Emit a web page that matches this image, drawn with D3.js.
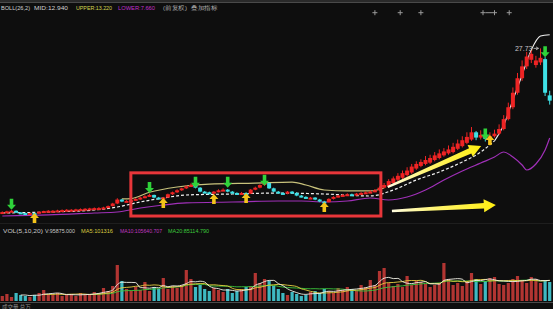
<!DOCTYPE html>
<html><head><meta charset="utf-8">
<script src="https://cdn.jsdelivr.net/npm/d3@7"></script>
<style>html,body{margin:0;padding:0;background:#0e0e0e;overflow:hidden}</style>
</head><body><svg id="c" width="553" height="309"></svg>
<script>
// ---------- DATA ----------
const opens = [2.85,2.9,3.0,3.1,2.85,2.75,2.7,2.75,2.7,2.95,
3.05,3.1,3.1,3.15,3.2,3.25,3.25,3.3,3.35,3.4,
3.45,3.5,3.5,3.6,3.8,4.2,4.8,4.5,4.6,4.7,
4.9,5.1,5.3,5.5,5.1,5.0,5.1,5.6,5.9,6.2,
6.5,6.8,7.0,6.6,6.0,5.9,5.7,6.0,6.2,6.3,
6.0,5.8,5.7,5.8,5.7,6.3,6.6,7.0,7.3,6.5,
6.0,5.8,5.7,6.0,5.8,5.4,5.2,5.0,5.1,4.8,
4.5,4.4,4.9,5.2,5.4,5.5,5.6,5.5,5.7,5.8,
5.9,6.0,6.2,6.6,6.8,7.3,7.8,8.1,8.5,8.9,
9.5,9.9,10.2,10.4,10.8,11.1,11.5,11.8,12.0,12.5,
12.9,13.4,13.9,15.0,14.2,14.6,14.0,14.4,14.8,15.5,
17.0,18.8,21.0,23.2,25.0,26.0,25.2,25.6,26.1,20.6];
const closes = [2.9,3.0,3.1,2.85,2.75,2.7,2.75,2.7,2.95,3.05,
3.1,3.1,3.15,3.2,3.25,3.25,3.3,3.35,3.4,3.45,
3.5,3.5,3.6,3.8,4.2,4.8,4.5,4.6,4.7,4.9,
5.1,5.3,5.5,5.1,5.0,5.1,5.6,5.9,6.2,6.5,
6.8,7.0,6.6,6.0,5.9,5.7,6.0,6.2,6.3,6.0,
5.8,5.7,5.8,5.7,6.3,6.6,7.0,7.3,6.5,6.0,
5.8,5.7,6.0,5.8,5.4,5.2,5.0,5.1,4.8,4.5,
4.4,4.9,5.2,5.4,5.5,5.6,5.5,5.7,5.8,5.9,
6.0,6.2,6.6,7.0,7.6,8.0,8.4,8.8,9.2,9.8,
10.2,10.5,10.8,11.1,11.5,11.8,12.1,12.4,12.8,13.3,
13.8,14.3,15.0,14.2,14.6,14.0,14.4,14.8,15.5,17.0,
18.8,21.0,23.2,25.0,26.5,26.9,25.9,26.3,21.0,19.8];
const highs = [3.0,3.1,3.2,3.15,2.9,2.8,2.8,2.8,3.0,3.1,
3.2,3.2,3.25,3.3,3.35,3.35,3.4,3.45,3.5,3.55,
3.6,3.65,3.7,3.9,4.3,5.0,4.9,4.7,4.85,5.0,
5.2,5.45,5.7,5.55,5.2,5.2,5.7,6.0,6.35,6.6,
6.95,7.25,7.1,6.7,6.1,6.0,6.1,6.35,6.5,6.4,
6.1,5.9,5.95,5.9,6.4,6.75,7.1,7.5,7.35,6.6,
6.1,5.9,6.1,6.1,5.9,5.5,5.3,5.2,5.15,4.9,
4.6,5.0,5.3,5.5,5.65,5.75,5.7,5.8,5.95,6.05,
6.2,6.4,6.8,7.3,7.9,8.3,8.8,9.2,9.7,10.2,
10.6,10.9,11.4,11.6,12.0,12.4,12.6,13.0,13.4,13.9,
14.4,15.0,15.8,15.2,15.3,14.8,15.0,15.4,16.2,17.6,
19.5,21.8,24.0,25.9,27.2,27.5,26.6,27.73,26.4,21.3];
const lows = [2.8,2.85,2.95,2.8,2.7,2.65,2.65,2.6,2.7,2.9,
3.0,3.0,3.05,3.1,3.15,3.15,3.2,3.25,3.3,3.35,
3.4,3.4,3.45,3.55,3.75,4.1,4.4,4.4,4.5,4.6,
4.8,5.0,5.2,5.0,4.9,4.85,5.05,5.5,5.8,6.1,
6.4,6.7,6.5,5.9,5.8,5.6,5.6,5.9,6.1,5.9,
5.7,5.6,5.6,5.55,5.65,6.2,6.5,6.9,6.4,5.9,
5.7,5.6,5.6,5.7,5.3,5.1,4.9,4.9,4.7,4.4,
4.3,4.35,4.8,5.1,5.3,5.4,5.4,5.4,5.6,5.7,
5.8,5.9,6.1,6.5,6.6,7.1,7.6,7.9,8.3,8.7,
9.3,9.7,10.0,10.2,10.6,10.9,11.3,11.6,11.8,12.3,
12.7,13.2,13.7,13.8,13.9,13.6,13.8,14.2,14.6,15.3,
16.8,18.5,20.7,22.8,24.6,25.5,24.8,25.2,20.5,19.2];
// volume (thousand shares)
const volumes = [25,35,20,40,30,25,20,30,40,55,
35,30,40,25,30,35,25,40,30,35,
45,40,65,50,75,180,100,60,50,70,
55,95,50,70,60,115,60,75,65,80,
155,110,70,80,60,50,65,55,45,60,
40,50,60,70,75,140,90,110,100,75,
60,40,30,45,35,25,30,45,50,40,
60,50,40,65,55,70,60,50,80,70,
105,80,150,165,90,75,85,70,125,80,
100,95,85,70,80,90,190,110,80,90,
75,100,140,110,85,100,115,120,85,80,
90,110,125,100,90,120,110,90,100,95];
// BOLL lines [candle index, price]
const upperBand = [[26,4.9],[28,4.95],[32,5.9],[38,6.7],[45,7.15],[55,7.3],[63,7.45],[66,7.0],[70,6.25],[75,6.1],[80,6.1],[83,6.55]];
const midBand = [[0,2.76],[10,2.91],[20,3.21],[25,3.67],[30,4.43],[35,5.03],[40,5.49],[50,5.64],[60,5.79],[70,5.64],[80,5.34],[85,6.25],[90,7.76],[95,8.98],[100,10.5],[104,12.0],[107,13.7],[109,16.1],[111,19.9],[113,23.7],[115,27.5],[117,29.6],[119,29.8]];
const lowerBand = [[0,2.30],[10,2.46],[20,2.76],[25,2.91],[30,3.52],[35,3.97],[40,4.28],[50,4.43],[60,4.58],[65,4.58],[70,4.43],[75,4.58],[80,5.03],[84,4.73],[88,5.19],[92,6.25],[96,7.76],[100,9.13],[104,10.34],[107,11.25],[109,12.01],[111,11.25],[113,10.04],[114,9.28],[116,10.19],[118,12.32],[119,14.14]];
// signals [index, tip price]
const sellSignals = [[2,3.25],[32,5.79],[42,6.6],[49,6.6],[57,6.9],[105,13.9],[118,26.4]];
const buySignals = [[7,2.76],[35,5.03],[46,5.64],[53,5.79],[70,4.43],[106,14.6]];
// annotations in data coordinates
const boxRange = {i0:27.95, i1:82.3, pLow:2.3, pHigh:8.85};
const trendArrows = [[[83.8,6.7],[104.1,12.92]],[[84.7,3.06],[107.3,3.97]]];
const infoMarks = [81, 86.5, 91, 104.5, 107, 110.2];
const headerTexts = ["BOLL(26,2)","MID:12.940","UPPER:13.220","LOWER:7.660","(前复权)","叠加指标"];
const volTexts = ["VOL(5,10,20)","V:95875.000","MA5:101316","MA10:105640.707","MA20:85114.790"];

// ---------- CHART ----------
const svg = d3.select("#c");
const W = 553, H = 309, N = closes.length;
const FONT = "Liberation Sans, Arial, sans-serif";
svg.append("rect").attr("width",W).attr("height",H).attr("fill","#0e0e0e");
svg.append("rect").attr("width",W).attr("height",2).attr("fill","#2a2a2a");
svg.append("line").attr("x1",0).attr("x2",W).attr("y1",2.5).attr("y2",2.5).attr("stroke","#4a4a4a");

const x = d3.scaleLinear().domain([0,N-1]).range([2.3,549.7]);
const y = d3.scaleLinear().domain([2,29]).range([218,40]);
const yv = d3.scaleLinear().domain([0,300]).range([301,241]);

const defs = svg.append("defs");
const main = svg.append("g");

// header
const hdr = [[1,29,"#d0d0d0"],[34,34,"#d0d0d0"],[76,36,"#d6d650"],[118,37,"#c030c8"],[163,24,"#b0b0b0"],[191,26,"#b0b0b0"]];
headerTexts.forEach((t,k)=>{
  svg.append("text").attr("x",hdr[k][0]).attr("y",10).attr("font-family",FONT)
    .attr("font-size",5.5).attr("fill",hdr[k][2]).attr("textLength",hdr[k][1]).attr("lengthAdjust","spacingAndGlyphs").text(t);
});
// info marks
infoMarks.forEach(i=>{
  const cx = x(i);
  svg.append("path").attr("d",`M${cx-2.5},12.7H${cx+2.5}M${cx},10.2V15.2`).attr("stroke","#9a9a9a").attr("stroke-width",1);
});
svg.append("line").attr("x1",x(104.5)+2.5).attr("x2",x(107)-2.5).attr("y1",12.7).attr("y2",12.7).attr("stroke","#9a9a9a");

// bands
const bl = d3.line().x(d=>x(d[0])).y(d=>y(d[1])).curve(d3.curveMonotoneX);
main.append("path").attr("d",bl(lowerBand)).attr("fill","none").attr("stroke","#a030b8").attr("stroke-width",1.2);
main.append("path").attr("d",bl(upperBand)).attr("fill","none").attr("stroke","#c8c27c").attr("stroke-width",1.2);
main.append("path").attr("d",bl(midBand.filter(d=>d[0]<=107))).attr("fill","none").attr("stroke","#f2f2f2").attr("stroke-width",1.2).attr("stroke-dasharray","3,2");
main.append("path").attr("d",bl(midBand.filter(d=>d[0]>=107))).attr("fill","none").attr("stroke","#f2f2f2").attr("stroke-width",1.1);

// candles
const up = i => closes[i] >= opens[i];
const cg = main.append("g");
d3.range(N).forEach(i=>{
  const col = up(i) ? "#ee2424" : "#3fe0e6";
  cg.append("line").attr("x1",x(i)).attr("x2",x(i)).attr("y1",y(highs[i])).attr("y2",y(lows[i])).attr("stroke",col).attr("stroke-width",1);
  const y0 = y(Math.max(opens[i],closes[i])), y1 = y(Math.min(opens[i],closes[i]));
  cg.append("rect").attr("x",x(i)-2).attr("width",4).attr("y",y0).attr("height",Math.max(2,y1-y0)).attr("fill",col);
});

// max label
const iMax = d3.maxIndex(highs);
svg.append("text").attr("x",x(iMax)-8).attr("y",y(highs[iMax])+2.5).attr("text-anchor","end")
  .attr("font-family",FONT).attr("font-size",7).attr("fill","#c8c8c8").text(highs[iMax].toFixed(2));
svg.append("path").attr("d",`M${x(iMax)-7},${y(highs[iMax])}H${x(iMax)-2}M${x(iMax)-4.5},${y(highs[iMax])-1.5}L${x(iMax)-2},${y(highs[iMax])}L${x(iMax)-4.5},${y(highs[iMax])+1.5}`)
  .attr("stroke","#c8c8c8").attr("fill","none").attr("stroke-width",0.8);

// signal arrows
sellSignals.forEach(([i,p])=>{
  const cx=x(i), cy=y(p);
  main.append("path").attr("d",`M${cx},${cy}L${cx-4.5},${cy-5}L${cx-1.8},${cy-5}L${cx-1.8},${cy-11}L${cx+1.8},${cy-11}L${cx+1.8},${cy-5}L${cx+4.5},${cy-5}Z`).attr("fill","#2fd23a");
});
buySignals.forEach(([i,p])=>{
  const cx=x(i), cy=y(p);
  main.append("path").attr("d",`M${cx},${cy}L${cx-4.5},${cy+5}L${cx-1.8},${cy+5}L${cx-1.8},${cy+10}L${cx+1.8},${cy+10}L${cx+1.8},${cy+5}L${cx+4.5},${cy+5}Z`).attr("fill","#f4c41a");
});

// red highlight box
main.append("rect").attr("x",x(boxRange.i0)).attr("y",y(boxRange.pHigh))
  .attr("width",x(boxRange.i1)-x(boxRange.i0)).attr("height",y(boxRange.pLow)-y(boxRange.pHigh))
  .attr("fill","none").attr("stroke","#e8363a").attr("stroke-width",3);

// trend arrows
trendArrows.forEach((a,k)=>{
  const x1=x(a[0][0]), y1=y(a[0][1]), x2=x(a[1][0]), y2=y(a[1][1]);
  const L=Math.hypot(x2-x1,y2-y1), ux=(x2-x1)/L, uy=(y2-y1)/L, nx=-uy, ny=ux;
  const bx=x2-ux*12, by=y2-uy*12;
  const g=defs.append("linearGradient").attr("id","ga"+k).attr("gradientUnits","userSpaceOnUse")
    .attr("x1",x1).attr("y1",y1).attr("x2",x2).attr("y2",y2);
  g.append("stop").attr("offset",0).attr("stop-color","#fffde0");
  g.append("stop").attr("offset",0.45).attr("stop-color","#fff46a");
  g.append("stop").attr("offset",1).attr("stop-color","#ffee10");
  const pts=[[x1+nx*1.2,y1+ny*1.2],[bx+nx*2.8,by+ny*2.8],[bx+nx*6.5,by+ny*6.5],[x2,y2],[bx-nx*6.5,by-ny*6.5],[bx-nx*2.8,by-ny*2.8],[x1-nx*1.2,y1-ny*1.2]];
  main.append("path").attr("d","M"+pts.map(p=>p.join(",")).join("L")+"Z").attr("fill",`url(#ga${k})`);
});

// separator
svg.append("line").attr("x1",0).attr("x2",W).attr("y1",223.5).attr("y2",223.5).attr("stroke","#1e1e1e");

// volume legend
const vh = [[3,40,"#c8c8c8"],[45,30,"#c8c8c8"],[81,32,"#d8cc40"],[120,42,"#c038c0"],[168,41,"#3cc83c"]];
volTexts.forEach((t,k)=>{
  svg.append("text").attr("x",vh[k][0]).attr("y",233).attr("font-family",FONT)
    .attr("font-size",5.5).attr("fill",vh[k][2]).attr("textLength",vh[k][1]).attr("lengthAdjust","spacingAndGlyphs").text(t);
});

// volume bars
const vg = svg.append("g");
volumes.forEach((v,i)=>{
  vg.append("rect").attr("x",x(i)-1.6).attr("width",3.2).attr("y",yv(v)).attr("height",yv(0)-yv(v))
    .attr("fill", up(i) ? "#c43a36" : "#44ccd6").attr("opacity",0.9);
});
const ma = n => volumes.map((v,i)=> i<n-1 ? null : d3.mean(volumes.slice(i-n+1,i+1)));
const vl = d3.line().defined(d=>d[1]!=null).x(d=>x(d[0])).y(d=>yv(d[1])).curve(d3.curveMonotoneX);
[[20,"#3cc83c"],[10,"#e8d040"],[5,"#f2f2e6"]].forEach(([n,c])=>{
  svg.append("path").attr("d",vl(ma(n).map((v,i)=>[i,v]))).attr("fill","none").attr("stroke",c).attr("stroke-width",0.9);
});

// bottom
svg.append("line").attr("x1",0).attr("x2",W).attr("y1",302.5).attr("y2",302.5).attr("stroke","#4a4a4a");
svg.append("text").attr("x",2).attr("y",308.5).attr("font-family","Noto Sans CJK SC, sans-serif").attr("font-size",5.5).attr("fill","#8a8a8a").text("成交量 总万");
</script></body></html>
